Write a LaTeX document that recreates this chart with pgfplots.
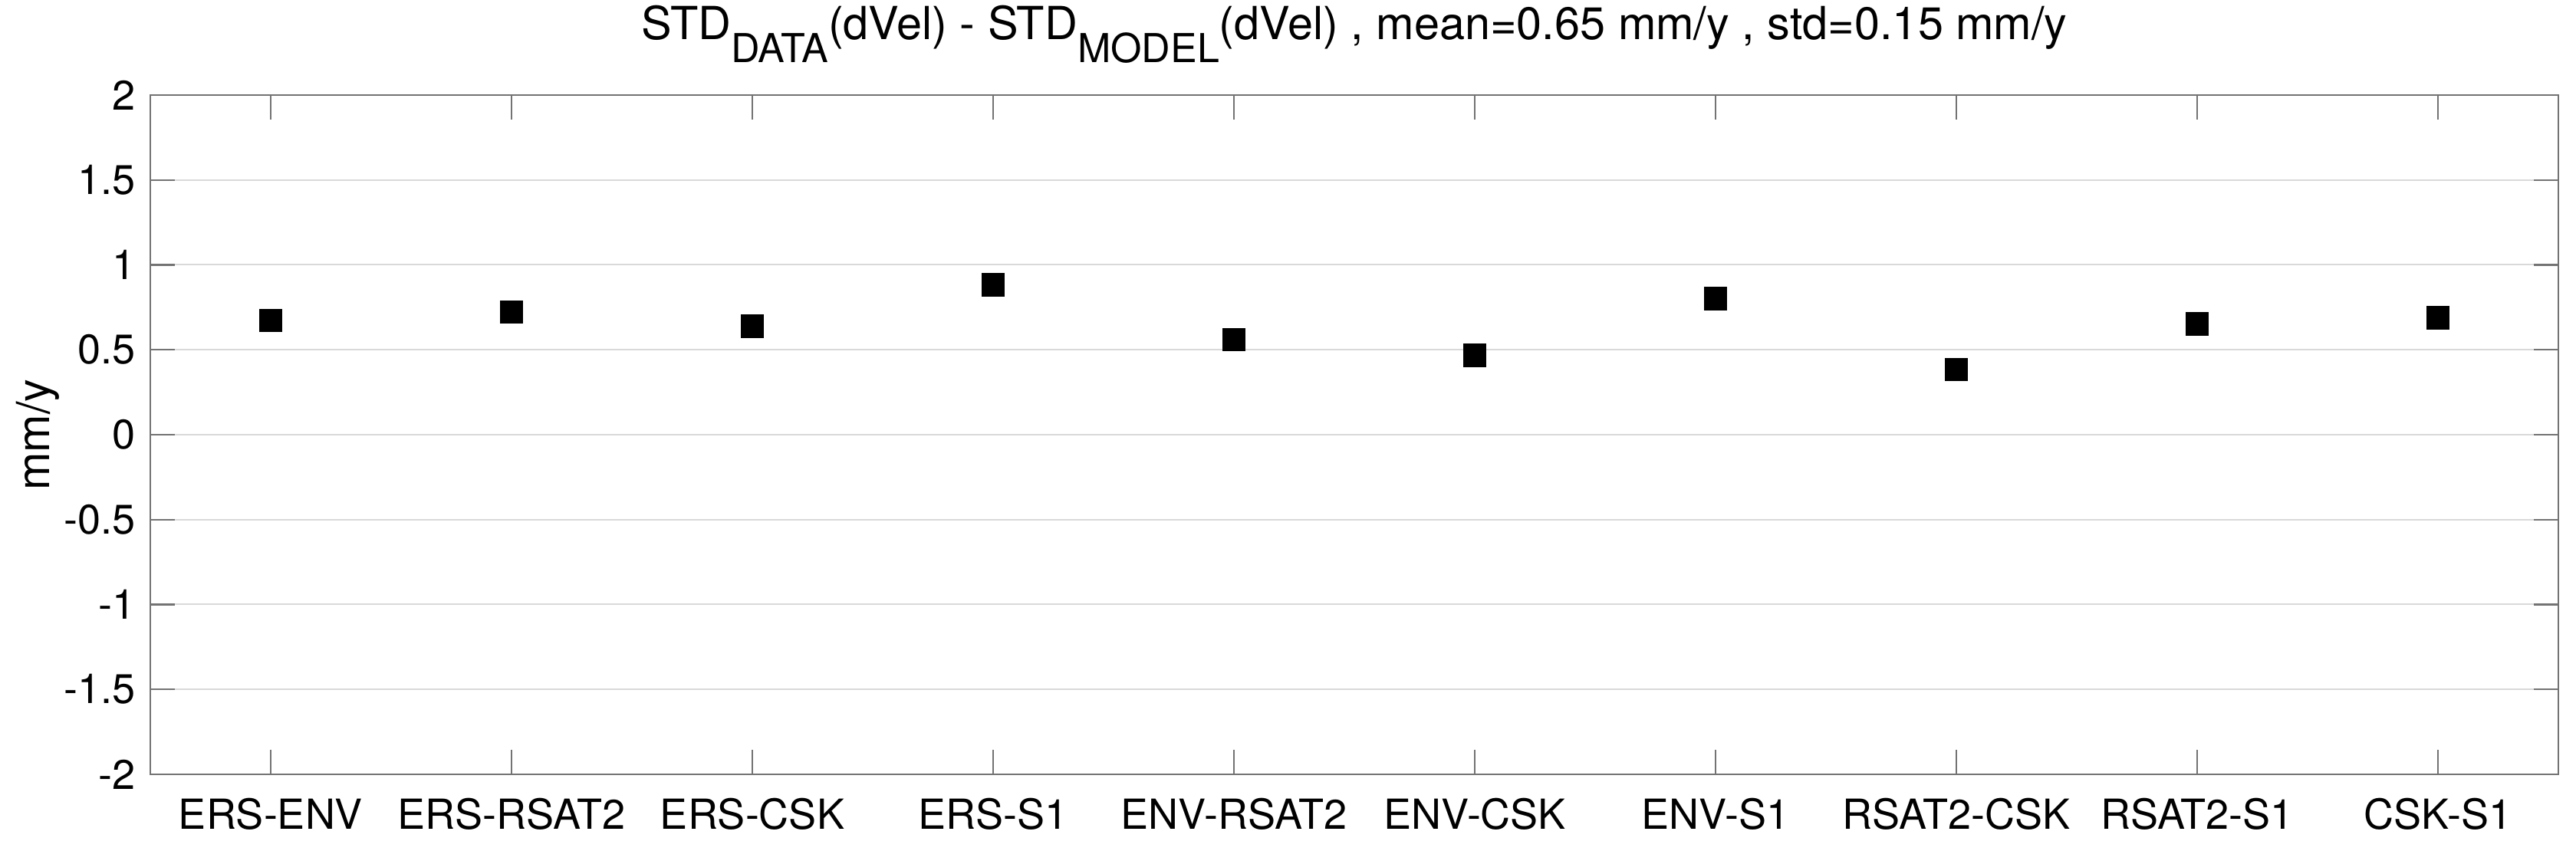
\documentclass[border=0pt]{standalone}
\usepackage{fontspec}
\setmainfont{TeX Gyre Heros}
\usepackage{pgfplots}
\pgfplotsset{compat=1.18}

% lowered, slightly smaller subscript as in the MATLAB title
\newcommand\sub[1]{\raisebox{-7.5pt}{\fontsize{13}{15}\selectfont #1}}

\begin{document}
\begin{tikzpicture}
\useasboundingbox (-49pt,-25pt) rectangle (790.75pt,252.5pt);
\begin{axis}[
  scale only axis, width=785pt, height=221.5pt,
  xmin=0.5, xmax=10.5, ymin=-2, ymax=2,
  xtick={1,...,10},
  xticklabels={ERS-ENV,ERS-RSAT2,ERS-CSK,ERS-S1,ENV-RSAT2,ENV-CSK,ENV-S1,RSAT2-CSK,RSAT2-S1,CSK-S1},
  ytick={-2,-1.5,...,2},
  ymajorgrids,
  grid style={black!15, line width=0.5pt},
  axis line style={black!55, line width=0.6pt},
  major tick style={black!55, line width=0.6pt},
  major tick length=8pt,
  tick align=inside,
  ticklabel style={font=\fontsize{13.5}{16}\selectfont, inner sep=0pt},
  xticklabel style={yshift=-7.5pt},
  yticklabel style={xshift=-4.75pt},
  /pgf/number format/assume math mode=true,
  ylabel={mm/y},
  ylabel style={at={(axis description cs:-0.042,0.5)}, anchor=base,
    font=\fontsize{14.85}{17}\selectfont},
  title={STD\sub{DATA}(dVel) - STD\sub{MODEL}(dVel) , mean=0.65 mm/y , std=0.15 mm/y},
  title style={at={(axis description cs:0.5,1)}, anchor=base, yshift=12pt,
    font=\fontsize{14.85}{17}\selectfont},
]
\addplot[only marks, mark=square*, mark size=3.6pt, black] coordinates {
  (1,0.674) (2,0.722) (3,0.638) (4,0.882) (5,0.561)
  (6,0.468) (7,0.802) (8,0.384) (9,0.653) (10,0.689)
};
\end{axis}
\end{tikzpicture}
\end{document}
